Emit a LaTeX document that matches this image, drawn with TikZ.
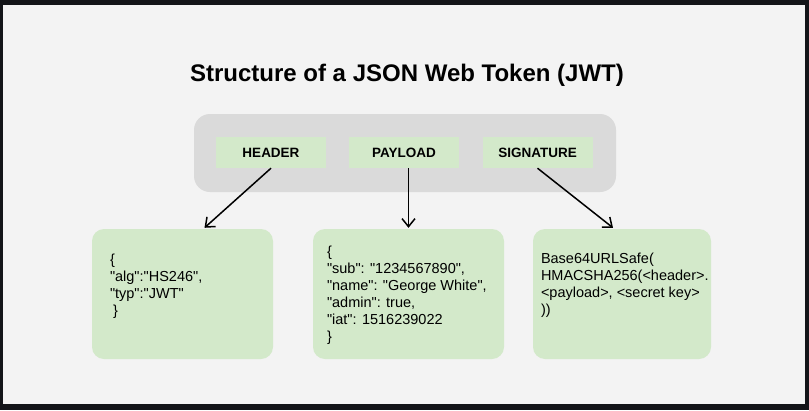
\documentclass[tikz,border=0pt]{standalone}
\usepackage{fontspec}
\setmainfont{Liberation Sans}[Ligatures=TeXOff]
\usetikzlibrary{positioning}
\usetikzlibrary{arrows.meta}
\definecolor{frame}{HTML}{131418}
\definecolor{paper}{HTML}{F3F3F3}
\definecolor{tray}{HTML}{DADADA}
\definecolor{leaf}{HTML}{D3E9CA}
\tikzset{
  part/.style={fill=leaf, minimum width=110pt, minimum height=31pt, inner sep=0pt,
    font=\fontsize{13.5}{15}\selectfont\bfseries},
  field/.style={fill=leaf, rounded corners=12pt, minimum height=130pt},
  body/.style={align=left, anchor=north west, inner sep=0pt,
    font=\fontsize{14.5}{17}\selectfont},
  link/.style={-{Straight Barb[length=8pt,width=13pt]}, line width=1.5pt}
}
\begin{document}
\begin{tikzpicture}[x=1pt, y=-1pt]
            \fill[frame] (0, 0) rectangle (809, 410);
            \fill[paper] (3, 5) rectangle (805, 404);

            \node[font=\fontsize{24}{28}\selectfont\bfseries] (title) at (407, 75) {Structure of a JSON Web Token (JWT)};

            % the three parts
            \node[fill=tray, rounded corners=16pt, minimum width=422pt, minimum height=78pt] (tray) at (405, 153) {};
            \node[part] (header)    at (271, 152.5)   {HEADER};
            \node[part] (payload)   at (404, 152.5)   {PAYLOAD};
            \node[part] (signature) at (537.5, 152.5) {SIGNATURE};

            % what each part holds
            \node[field, minimum width=181pt] (hdrbox) at (182.5, 294) {};
            \node[field, minimum width=191pt] (paybox) at (408.5, 294) {};
            \node[field, minimum width=178pt] (sigbox) at (622, 294)   {};

            \node[body] (hdrtxt) at ([shift={(18pt,-25pt)}]hdrbox.north west)
              {\{\\"alg":"HS246",\\"typ":"JWT"\\\hspace{3pt}\}};
            \node[body] (paytxt) at ([shift={(14pt,-17pt)}]paybox.north west)
              {\{\\"sub": "1234567890",\\"name": "George White",\\"admin": true,\\"iat": 1516239022\\\}};
            \node[body] (sigtxt) at ([shift={(8pt,-24pt)}]sigbox.north west)
              {Base64URLSafe(\\HMACSHA256(<header>.\\<payload>, <secret key>\\))};

            \draw[link] (header.south)                 -- ([xshift=22pt,yshift=1pt]hdrbox.north);
            \draw[link] (payload.south -| paybox.north) -- ([yshift=1pt]paybox.north);
            \draw[link] (signature.south)              -- ([xshift=-9pt,yshift=1pt]sigbox.north);
        \end{tikzpicture}
\end{document}
